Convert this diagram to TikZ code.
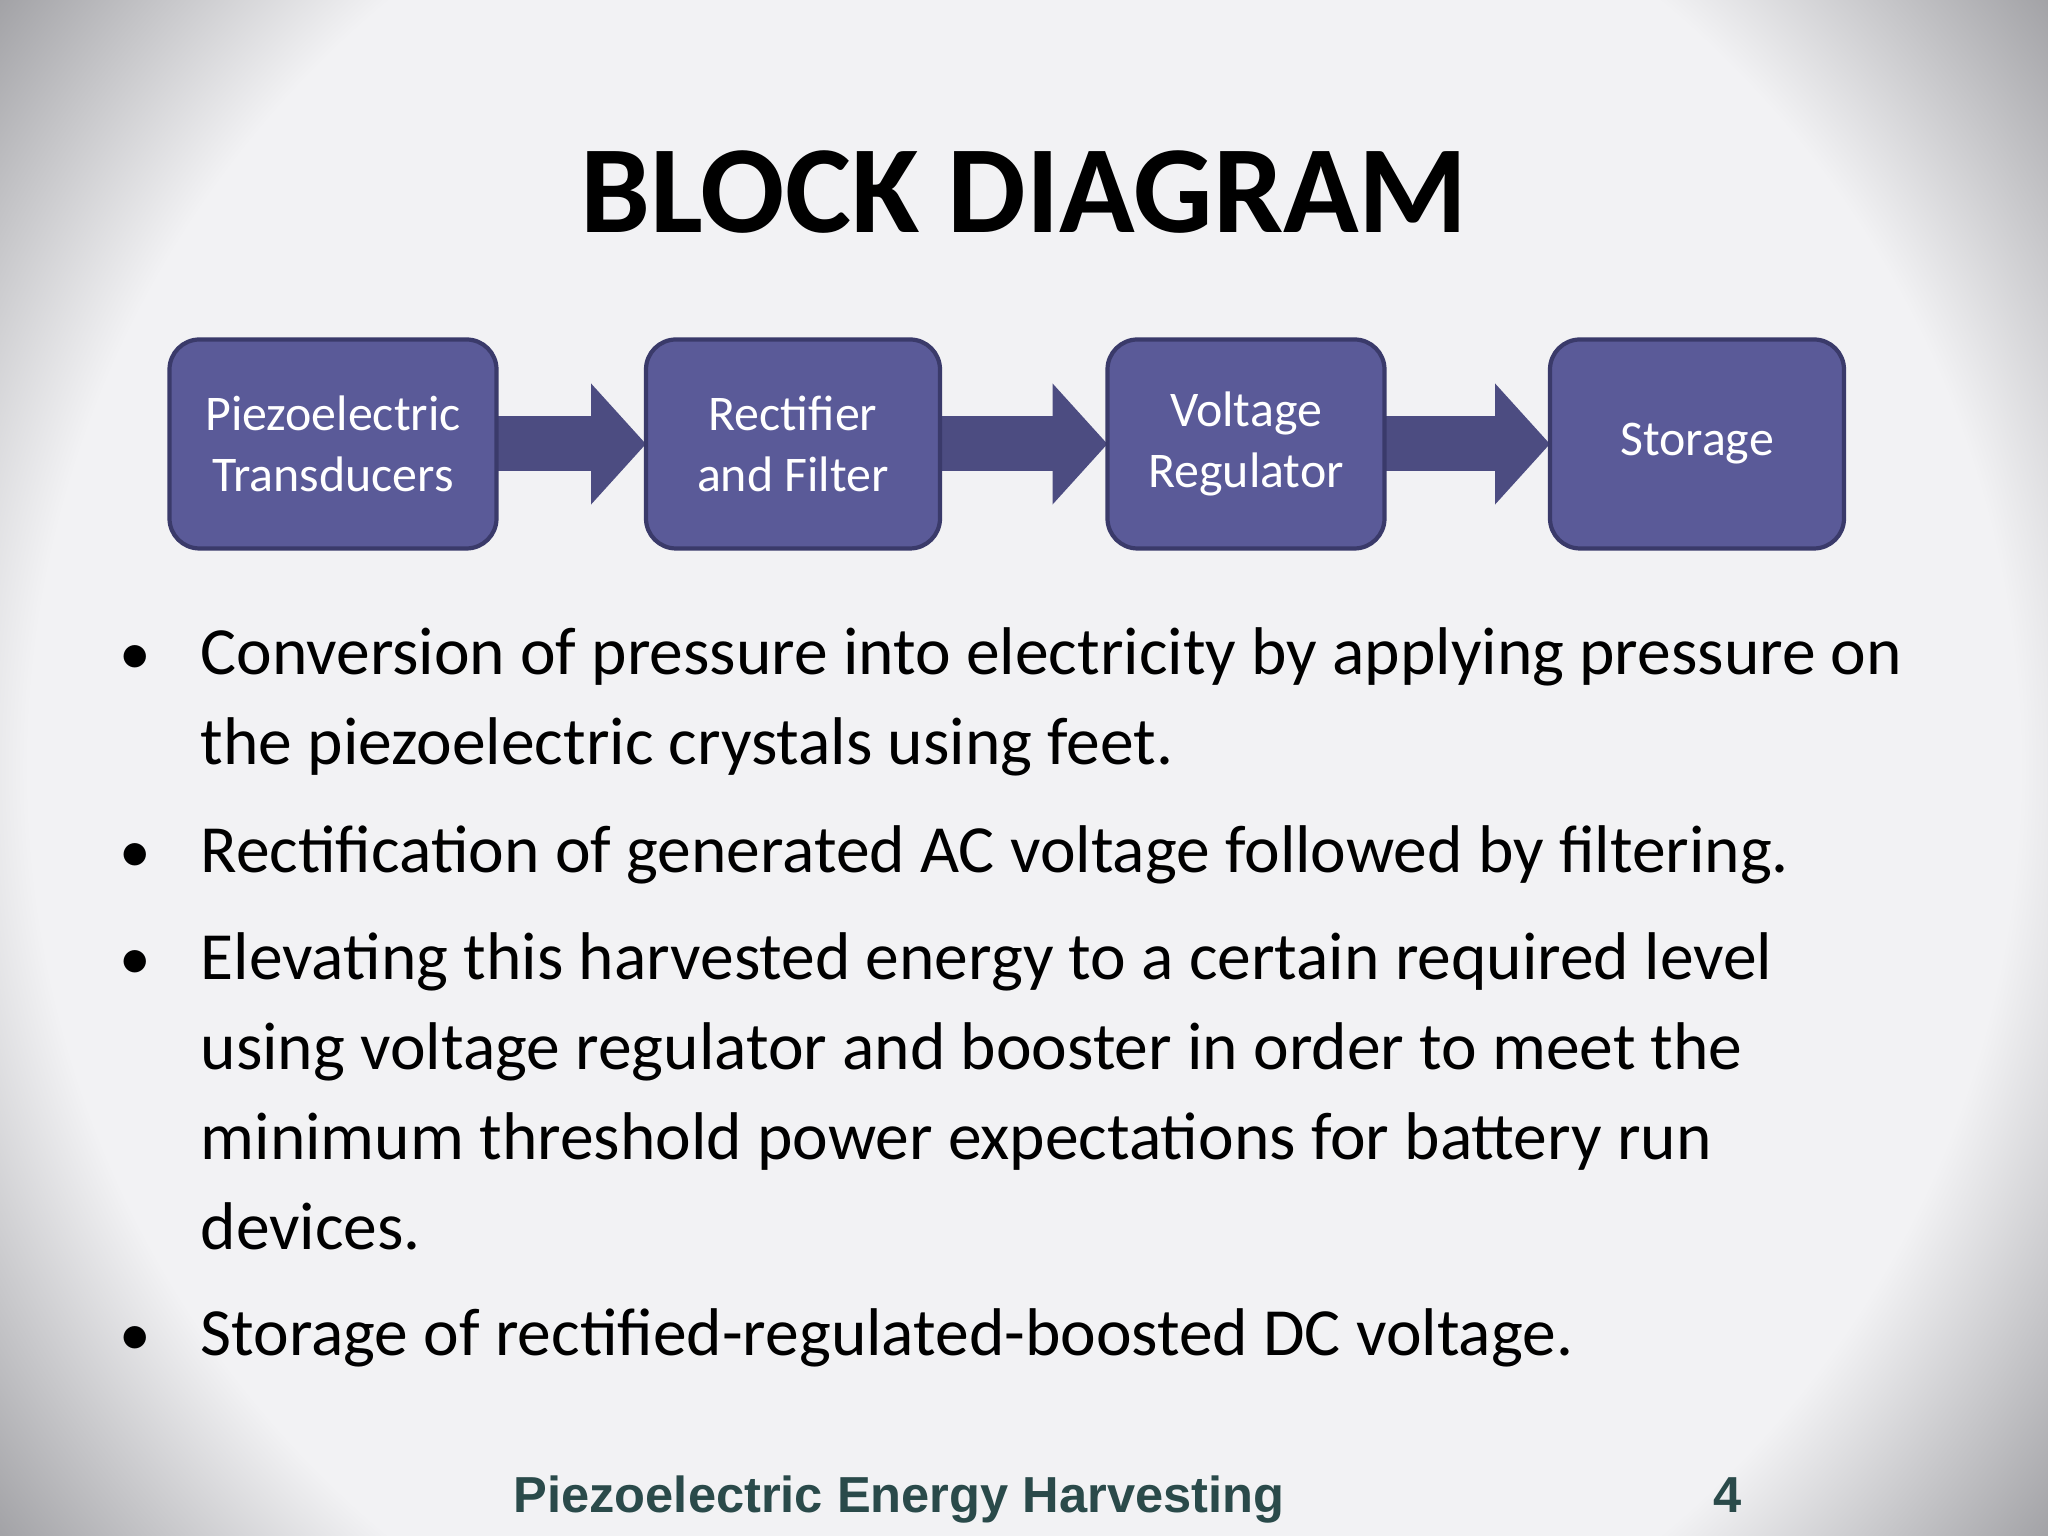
\documentclass[tikz,border=0pt]{standalone}
\usepackage{fontspec}
\setmainfont{Carlito}
\newfontfamily\footfont{Liberation Sans}
\usetikzlibrary{positioning,arrows.meta}
\definecolor{bgc}{HTML}{F2F2F4}
\definecolor{edgec}{HTML}{9A9A9E}
\definecolor{boxc}{HTML}{5A5A98}
\definecolor{boxl}{HTML}{3A3A6A}
\definecolor{footc}{HTML}{2A4A4A}
\pgfdeclareradialshading{vignette}{\pgfpoint{0cm}{0cm}}{color(0bp)=(bgc); color(19bp)=(bgc); color(25bp)=(edgec); color(50bp)=(edgec)}
\newcommand\bulletlines[1]{\parbox[t]{18cm}{\raggedright\fontsize{19.2}{25.6}\selectfont #1}}
\tikzset{
  block/.style={draw=boxl, line width=1.2pt, fill=boxc, rounded corners=0.3cm,
    minimum height=2.09cm, text=white, align=center,
    font=\fontsize{14.2}{17.5}\selectfont},
  flow/.style={boxc!85!black, line width=0.55cm,
    -{Triangle[width=1.18cm,length=0.55cm]}},
  bullet/.style={anchor=base west, inner sep=0pt},
}
\begin{document}
\begin{tikzpicture}
  \useasboundingbox (0,0) rectangle (20.48,15.36);
  \begin{scope}
    \clip (0,0) rectangle (20.48,15.36);
    \shade[shading=vignette] (10.24,7.68) circle (13.1cm);
  \end{scope}

  % title
  \node [anchor=base, font=\fontsize{35.5}{40}\selectfont\bfseries] (title) at (10.24,13.03) {BLOCK DIAGRAM};

  % arrows first, blocks on top
  \coordinate (c1) at (3.33,10.92);
  \coordinate (c2) at (7.93,10.92);
  \coordinate (c3) at (12.46,10.92);
  \coordinate (c4) at (16.97,10.92);
  \draw [flow] ([xshift=1.5cm]c1) -- ([xshift=-1.47cm]c2);
  \draw [flow] ([xshift=1.4cm]c2) -- ([xshift=-1.385cm]c3);
  \draw [flow] ([xshift=1.3cm]c3) -- ([xshift=-1.47cm]c4);

  % blocks
  \node [block, minimum width=3.27cm] (pz) at (c1) {Piezoelectric\\Transducers};
  \node [block, minimum width=2.94cm] (rf) at (c2) {Rectifier\\and Filter};
  \node [block, minimum width=2.77cm] (vr) at (c3) {Voltage\\Regulator};
  \node [block, minimum width=2.94cm] (st) at (c4) {Storage};

  % bullets
  \node [bullet] (b1) at (2.0,8.61) {\bulletlines{Conversion of pressure into electricity by applying pressure on\\the piezoelectric crystals using feet.}};
  \node [bullet] (b2) at (2.0,6.63) {\bulletlines{Rectification of generated AC voltage followed by filtering.}};
  \node [bullet] (b3) at (2.0,5.56) {\bulletlines{Elevating this harvested energy to a certain required level\\using voltage regulator and booster in order to meet the\\minimum threshold power expectations for battery run\\devices.}};
  \node [bullet] (b4) at (2.0,1.80) {\bulletlines{Storage of rectified-regulated-boosted DC voltage.}};
  \foreach \b in {b1,b2,b3,b4}
    \node [anchor=base, font=\fontsize{18}{20}\selectfont] at ([xshift=-0.65cm]\b.base west) {\textbullet};

  % footer
  \node [anchor=base, text=footc, font=\footfont\fontsize{14.4}{16}\selectfont\bfseries] (foot) at (8.99,0.235) {Piezoelectric Energy Harvesting};
  \node [anchor=base, text=footc, font=\footfont\fontsize{14.4}{16}\selectfont\bfseries] (page) at (17.28,0.235) {4};
\end{tikzpicture}
\end{document}
